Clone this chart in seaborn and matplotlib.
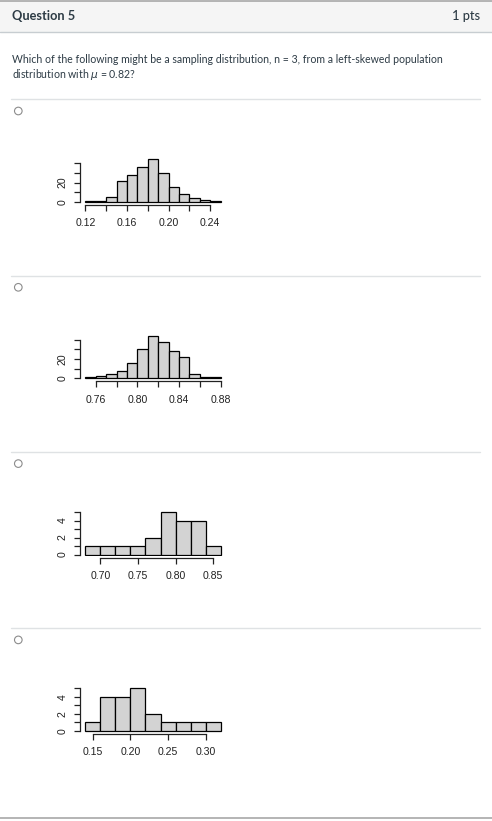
import seaborn as sns
import matplotlib.pyplot as plt
from matplotlib.patches import Rectangle, Circle
import numpy as np

# histogram data (bin edges and counts)
edges1 = [0.12, 0.13, 0.14, 0.15, 0.16, 0.17, 0.18, 0.19, 0.20, 0.21, 0.22, 0.23, 0.24, 0.25]
counts1 = [1, 1, 5, 22, 28, 36, 44, 30, 16, 8, 4, 2, 1]
xticks1 = [0.12, 0.14, 0.16, 0.18, 0.20, 0.22, 0.24]
xlabels1 = ["0.12", "", "0.16", "", "0.20", "", "0.24"]

edges2 = [0.75, 0.76, 0.77, 0.78, 0.79, 0.80, 0.81, 0.82, 0.83, 0.84, 0.85, 0.86, 0.87, 0.88]
counts2 = [1, 2, 4, 8, 16, 30, 44, 37, 28, 22, 4, 1, 1]
xticks2 = [0.76, 0.78, 0.80, 0.82, 0.84, 0.86, 0.88]
xlabels2 = ["0.76", "", "0.80", "", "0.84", "", "0.88"]

edges3 = [0.68, 0.70, 0.72, 0.74, 0.76, 0.78, 0.80, 0.82, 0.84, 0.86]
counts3 = [1, 1, 1, 1, 2, 5, 4, 4, 1]
xticks3 = [0.70, 0.75, 0.80, 0.85]
xlabels3 = ["0.70", "0.75", "0.80", "0.85"]

edges4 = [0.14, 0.16, 0.18, 0.20, 0.22, 0.24, 0.26, 0.28, 0.30, 0.32]
counts4 = [1, 4, 4, 5, 2, 1, 1, 1, 1]
xticks4 = [0.15, 0.20, 0.25, 0.30]
xlabels4 = ["0.15", "0.20", "0.25", "0.30"]

yticks_big = [0, 10, 20, 30, 40]
ylabels_big = ["0", "", "20", "", ""]
yticks_small = [0, 1, 2, 3, 4, 5]
ylabels_small = ["0", "", "2", "", "4", ""]

question = "Which of the following might be a sampling distribution, n = 3, from a left-skewed population"
question2 = "distribution with $\\mu$ = 0.82?"

W, H = 492, 821
fig = plt.figure(figsize=(W / 100, H / 100), dpi=100)
sns.set_style("white")
plt.rcParams['font.family'] = ['Liberation Sans', 'DejaVu Sans']

# page background (quiz layout) in pixel coordinates
bg = fig.add_axes([0, 0, 1, 1])
bg.set_xlim(0, W)
bg.set_ylim(H, 0)
bg.axis('off')
bg.add_patch(Rectangle((0, 0.7), W, 31, facecolor='#f5f5f5', edgecolor='none'))
bg.axhline(0.7, color='#a8a8a8', lw=1.2)
bg.axhline(31.8, color='#c7cdd1', lw=1)
bg.text(11.5, 16, "Question 5", fontsize=9.2, fontweight='bold', family='Lato',
        color='#2d3b45', va='center', ha='left')
bg.text(480, 16, "1 pts", fontsize=9.2, fontweight='medium', family='Lato',
        color='#2d3b45', va='center', ha='right')
bg.text(11.5, 59.3, question, fontsize=7.6, family='Lato', color='#2d3b45', va='center')
bg.text(11.5, 74, question2, fontsize=7.6, family='Lato', color='#2d3b45', va='center')

step = 176.3
for k in range(4):
    bg.plot([11, 480], [99.3 + k * step] * 2, color='#dfe2e4', lw=1)
    bg.add_patch(Circle((18.3, 111 + k * step), 3.8, facecolor='white',
                        edgecolor='#8c8c8c', lw=0.8))
bg.axhline(818.3, color='#a8a8a8', lw=1.2)

hists = [
    (edges1, counts1, xticks1, xlabels1, yticks_big, ylabels_big, 44),
    (edges2, counts2, xticks2, xlabels2, yticks_big, ylabels_big, 44),
    (edges3, counts3, xticks3, xlabels3, yticks_small, ylabels_small, 5),
    (edges4, counts4, xticks4, xlabels4, yticks_small, ylabels_small, 5),
]

left_px, width_px, height_px = 80, 146, 46
for k, (edges, counts, xt, xl, yt, yl, ymax) in enumerate(hists):
    bottom_px = 203.7 + k * step
    ax = fig.add_axes([left_px / W, 1 - bottom_px / H, width_px / W, height_px / H])
    mids = (np.array(edges[:-1]) + np.array(edges[1:])) / 2
    sns.histplot(x=mids, weights=counts, bins=edges, ax=ax, color='#d3d3d3',
                 edgecolor='black', linewidth=0.9, alpha=1)
    r = edges[-1] - edges[0]
    ax.set_xlim(edges[0] - 0.04 * r, edges[-1] + 0.04 * r)
    ax.set_ylim(-0.04 * ymax, 1.04 * ymax)
    ax.set_xlabel("")
    ax.set_ylabel("")
    ax.set_xticks(xt)
    ax.set_xticklabels(xl)
    ax.set_yticks(yt)
    ax.set_yticklabels(yl, rotation=90, va='center')
    for s in ['top', 'right']:
        ax.spines[s].set_visible(False)
    ax.spines['left'].set_bounds(yt[0], yt[-1])
    ax.spines['bottom'].set_bounds(xt[0], xt[-1])
    for s in ['left', 'bottom']:
        ax.spines[s].set_color('#222222')
        ax.spines[s].set_linewidth(0.9)
    ax.spines['bottom'].set_position(('outward', 1))
    ax.tick_params(axis='both', length=4, width=0.9, color='#222222',
                   labelsize=7.6, labelcolor='#222222', direction='out',
                   bottom=True, left=True)
    ax.tick_params(axis='x', pad=5.5)
    ax.tick_params(axis='y', pad=5)
    ax.patch.set_alpha(0)

fig.savefig("out.png", dpi=100)
